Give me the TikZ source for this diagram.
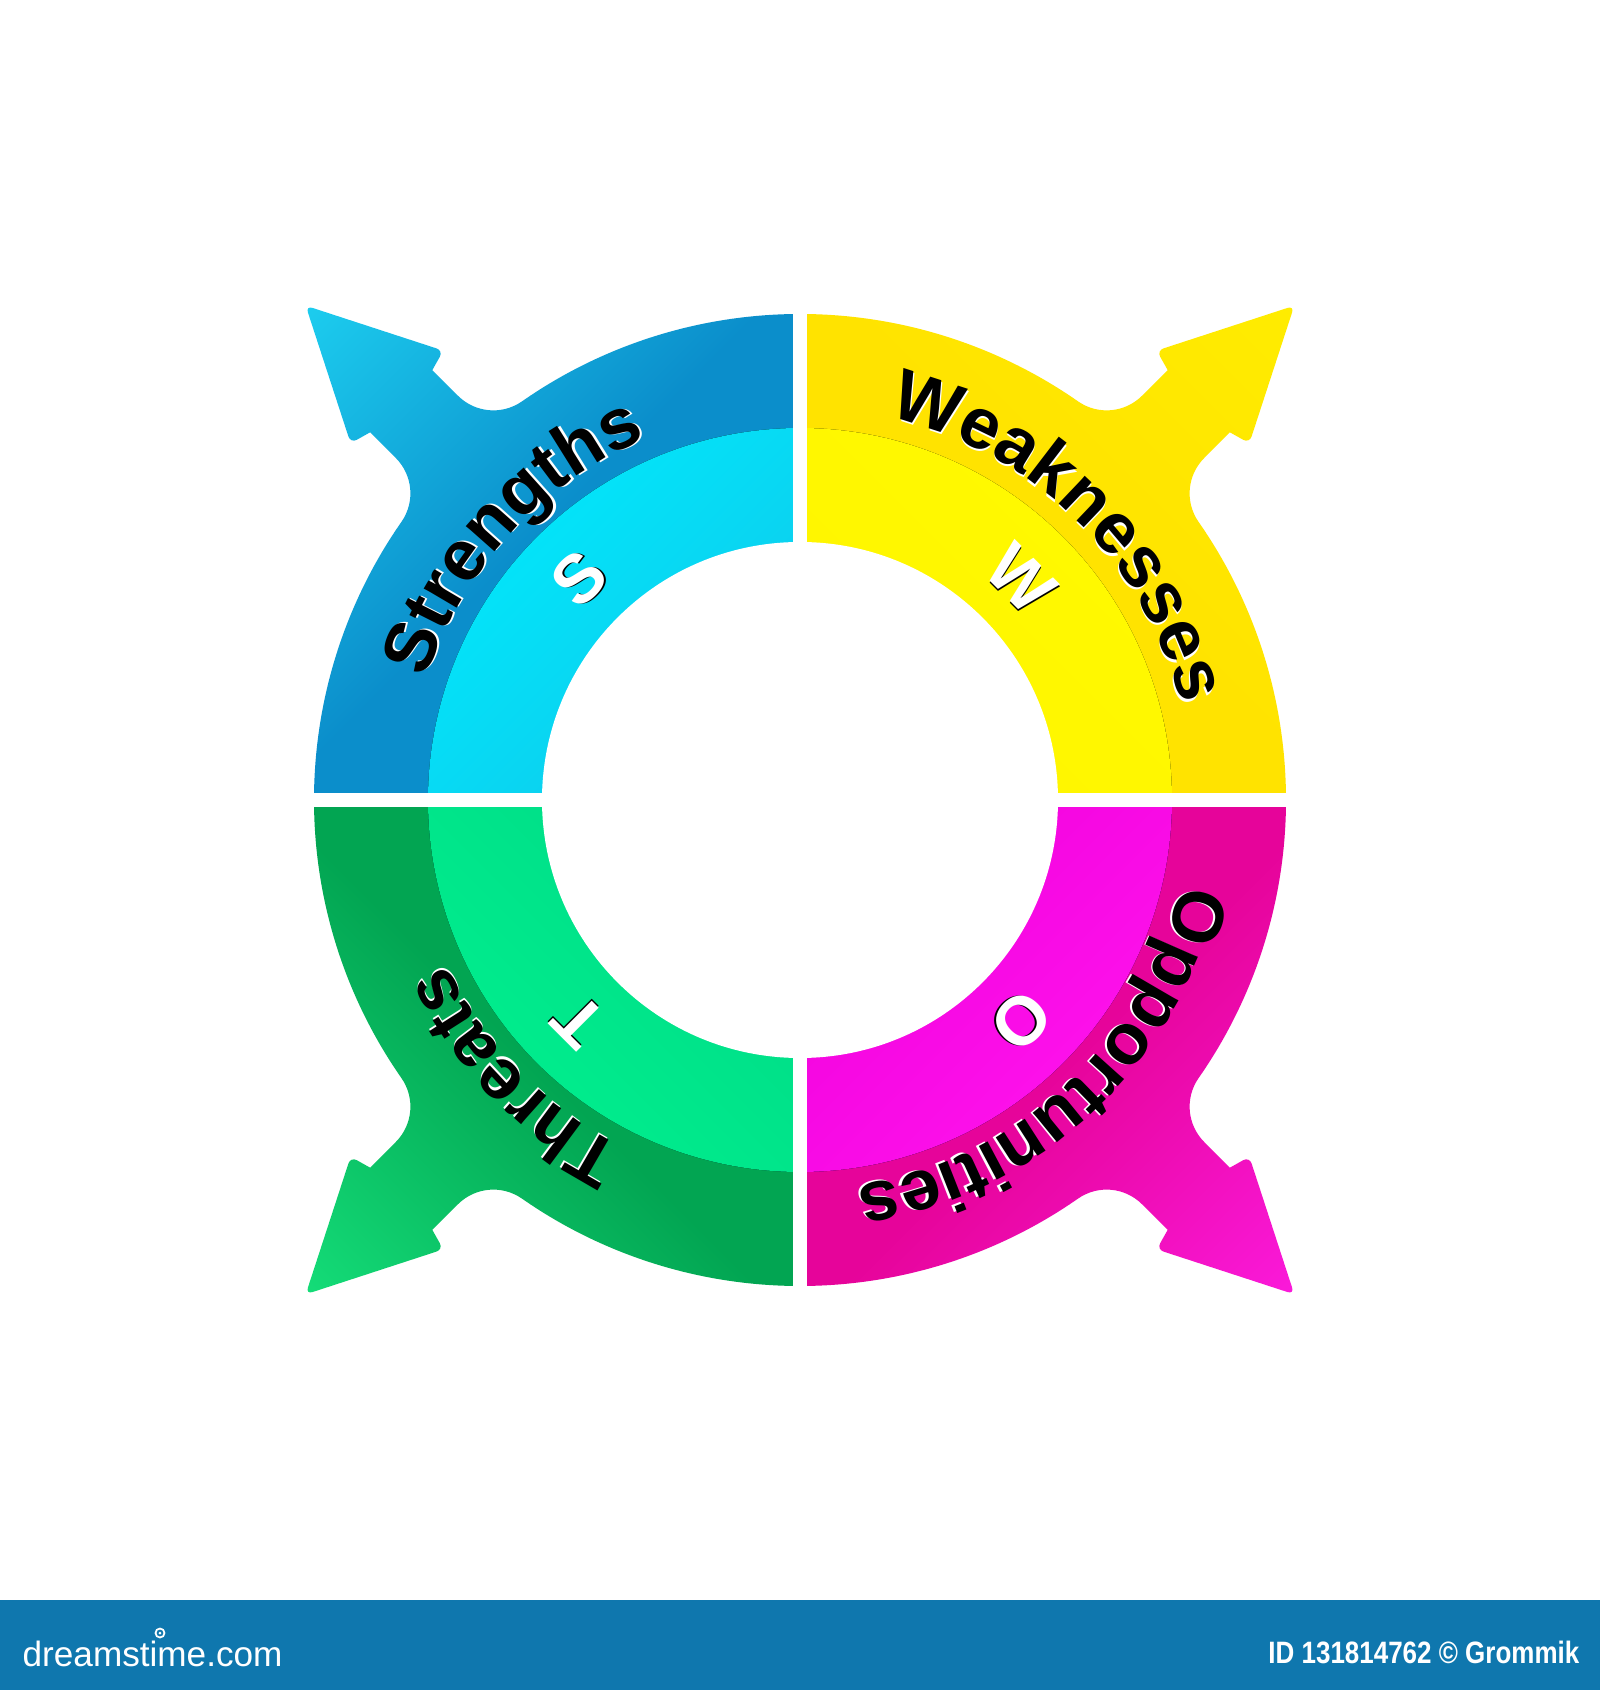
\documentclass[tikz,border=0pt]{standalone}
\usepackage{fontspec}
\setmainfont{Liberation Sans}
\newfontfamily\narrowbold[FakeStretch=0.84]{Liberation Sans Bold}
\usetikzlibrary{decorations.text,calc}
\definecolor{bdark}{HTML}{0B8ECB}\definecolor{btip}{HTML}{20DAF6}
\definecolor{blA}{HTML}{00EAFC}\definecolor{blB}{HTML}{10C6EA}
\definecolor{ydark}{HTML}{FFE300}\definecolor{ytip}{HTML}{FFEE00}
\definecolor{ylA}{HTML}{FFFA00}\definecolor{ylB}{HTML}{FFF400}
\definecolor{gdark}{HTML}{02A552}\definecolor{gtip}{HTML}{18E880}
\definecolor{glA}{HTML}{00F08E}\definecolor{glB}{HTML}{00D886}
\definecolor{mdark}{HTML}{E6049A}\definecolor{mtip}{HTML}{FF1EE8}
\definecolor{mlA}{HTML}{FF14EE}\definecolor{mlB}{HTML}{F000DA}
\definecolor{banner}{HTML}{0F77AE}
\pgfdeclareverticalshading{bshade}{100bp}{color(0bp)=(bdark); color(55bp)=(bdark); color(92bp)=(btip); color(100bp)=(btip)}
\pgfdeclareverticalshading{yshade}{100bp}{color(0bp)=(ydark); color(55bp)=(ydark); color(92bp)=(ytip); color(100bp)=(ytip)}
\pgfdeclareverticalshading{gshade}{100bp}{color(0bp)=(gdark); color(55bp)=(gdark); color(92bp)=(gtip); color(100bp)=(gtip)}
\pgfdeclareverticalshading{mshade}{100bp}{color(0bp)=(mdark); color(55bp)=(mdark); color(92bp)=(mtip); color(100bp)=(mtip)}
\newcommand\lblfont{\fontsize{20.5}{24}\selectfont\bfseries}
\newcommand\ltrfont{\fontsize{19.5}{22}\selectfont\bfseries}
% #1 theta, #2 x sign, #3 y sign, #4 shading name, #5 lightA, #6 lightB, #7 shading angle
\newcommand\swotpart[7]{%
\begin{scope}
 \clip ({#2*0.075},{#3*0.075}) rectangle ({#2*9},{#3*9});
 \shade[shading=#4, shading angle=#7]
   (0,0) -- ({#1-50}:4.86) arc[start angle=#1-50, end angle=#1-10.1, radius=4.86]
   arc[start angle=#1-10.1+180, end angle=#1+90, radius=0.5]
   -- ({#1-4.46}:5.657) [rounded corners=2pt] -- ({#1-6.555}:5.738) -- (#1:6.99)
   -- ({#1+6.555}:5.738) [sharp corners] -- ({#1+4.46}:5.657) -- ({#1+4.766}:5.2955)
   arc[start angle=#1-90, end angle=#1+10.1-180, radius=0.5]
   arc[start angle=#1+10.1, end angle=#1+50, radius=4.86] -- cycle;
 \fill[left color=#5, right color=#6, shading angle=#7]
   (0,0) -- ({#1-50}:3.72) arc[start angle=#1-50, end angle=#1+50, radius=3.72] -- cycle;
\end{scope}}
% #1 centre angle, #2 radius, #3 text
\newcommand\arclabel[3]{%
 \path[decorate, decoration={text along path, text color=white, text align=center,
   text={|\lblfont|#3}}] ({#1+60-0.25}:{#2-0.015}) arc[start angle=#1+60-0.25, end angle=#1-60-0.25, radius=#2-0.015];
 \path[decorate, decoration={text along path, text color=black, text align=center,
   text={|\lblfont|#3}}] ({#1+60}:#2) arc[start angle=#1+60, end angle=#1-60, radius=#2];}
\newcommand\ringletter[3]{%
 \node[font=\ltrfont, text=black, rotate=#1-90] (#3s) at ($(#1:3.13)+(#1-135:0.022)$) {#2};
 \node[font=\ltrfont, text=white, rotate=#1-90] (#3) at (#1:3.13) {#2};}
\begin{document}
\begin{tikzpicture}
\useasboundingbox (-8,-8.9) rectangle (8,8);
\fill[white] (-8,-8.9) rectangle (8,8);
\swotpart{135}{-1}{1}{bshade}{blA}{blB}{45}
\swotpart{45}{1}{1}{yshade}{ylA}{ylB}{-45}
\swotpart{225}{-1}{-1}{gshade}{glA}{glB}{135}
\swotpart{315}{1}{-1}{mshade}{mlA}{mlB}{225}
\fill[white] (0,0) circle[radius=2.58];
\arclabel{137.5}{3.93}{Strengths}
\arclabel{45.5}{3.93}{Weaknesses}
\arclabel{-47}{3.9}{Opportunities}
\arclabel{224}{3.9}{Threats}
\ringletter{135}{S}{ls}
\ringletter{45}{W}{lw}
\ringletter{-45}{O}{lo}
\ringletter{225}{T}{lt}
\fill[banner] (-8,-8.9) rectangle (8,-8.0);
\node[anchor=west, text=white, font=\fontsize{10}{12}\selectfont, inner sep=0pt] (site) at (-7.78,-8.54) {dreamstime.com};
\draw[white, line width=0.5pt] (-6.4,-8.33) circle[radius=0.045];
\fill[white] (-6.4,-8.33) circle[radius=0.015];
\node[anchor=east, text=white, font=\narrowbold\fontsize{8.8}{11}\selectfont, inner sep=0pt] (credit) at (7.8,-8.52) {ID 131814762 \textcopyright\ Grommik};
\end{tikzpicture}
\end{document}
